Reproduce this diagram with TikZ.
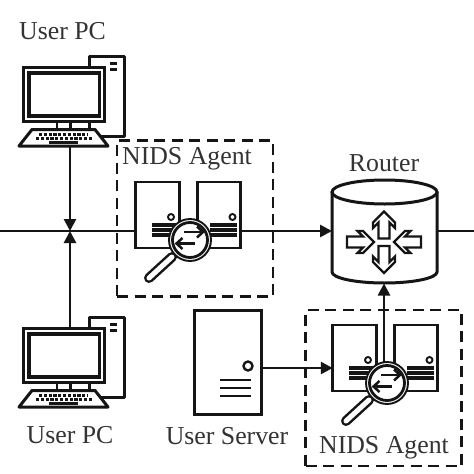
\documentclass[tikz,border=0pt]{standalone}
\usepackage{fontspec}
\setmainfont{Liberation Serif}
\usetikzlibrary{arrows.meta}
\definecolor{ink}{HTML}{151515}
\definecolor{labelink}{HTML}{333333}
\tikzset{
  x=1pt,y=-1pt,
  lw/.style={draw=ink,line width=3pt},
  conn/.style={draw=ink,line width=2.6pt},
  arrowed/.style={conn,-{Triangle[length=12pt,width=12pt,color=ink]}},
  dashbox/.style={draw=ink,line width=2.2pt,dash pattern=on 11pt off 6.5pt,minimum width=156pt,minimum height=156pt,outer sep=0pt,inner sep=0pt},
  srv/.style={draw=ink,fill=white,line width=2.7pt,outer sep=0pt,inner sep=0pt,minimum width=43.5pt,minimum height=66pt},
  lab/.style={font=\fontsize{25.8}{28}\selectfont,text=labelink,inner sep=0pt},
  pc/.pic={
    \draw[lw,fill=white,line join=round] (89,67) -- (89,56) -- (124,56) -- (124,136) -- (100,136);
    \draw[lw,fill=white] (23.5,67.5) rectangle (104,121);
    \draw[lw,fill=white,line width=3.2pt] (29,73) rectangle (99.5,116);
    \draw[lw,line width=2.8pt] (57,121) -- (57,129) (70.5,121) -- (70.5,129) (89.5,121) -- (89.5,129);
    \draw[lw,fill=white,line join=round] (32,129.5) -- (95,129.5) -- (108,146) -- (19,146) -- cycle;
    \draw[ink,line width=2.7pt,dash pattern=on 3.2pt off 1.6pt] (39,134.5) -- (88,134.5);
    \draw[ink,line width=2.7pt,dash pattern=on 3.2pt off 1.6pt] (36,138.5) -- (93,138.5);
    \draw[ink,line width=2.8pt] (49,142.5) -- (78,142.5);
    \draw[ink,line width=2.4pt] (110,63.5) -- (117,63.5) (110,69.5) -- (117,69.5);
    \coordinate (-kb) at (70,146);
    \coordinate (-mon) at (70,67.5);
  },
  nids/.pic={
    \node[srv] (-l) at (-32.5,-25) {};
    \node[srv] (-r) at (29,-25) {};
    \draw[ink,line width=1.9pt] (-19,-23) circle (3);
    \draw[ink,line width=1.9pt] (42.5,-23) circle (3);
    \foreach \yy in {-15,-10,-5} {
      \draw[ink,line width=3.2pt] (-38,\yy) -- (-12,\yy);
      \draw[ink,line width=3.2pt] (20,\yy) -- (47,\yy);
    }
    \draw[ink,line width=10pt,line cap=round] (-18,17) -- (-41,38);
    \draw[white,line width=5pt,line cap=round] (-18,17) -- (-41,38);
    \draw[ink,fill=white,line width=1.9pt] (0,0) circle (21);
    \draw[ink,fill=white,line width=2.8pt] (0,0) circle (17.5);
    \draw[ink,line width=2.5pt] (-6,-8) -- (12,-8);
    \draw[ink,line width=2.5pt,line join=miter] (7,-13.5) -- (13,-8) -- (7,-2.5);
    \draw[ink,line width=2.5pt] (-13,3.5) -- (5,3.5);
    \draw[ink,line width=2.5pt,line join=miter] (-7.5,-2) -- (-13.5,3.5) -- (-7.5,9);
    \coordinate (-in) at (-54,-9);
    \coordinate (-out) at (50.5,-9);
    \coordinate (-lens) at (-3,-21);
  },
  rarrow/.pic={
    \draw[ink,line width=2.4pt,line join=miter,fill=white]
      (0,-27) -- (11,-16) -- (11,-10.5) -- (5.5,-16) -- (5.5,0) -- (-5.5,0) -- (-5.5,-16) -- (-11,-10.5) -- (-11,-16) -- cycle;
  }
}
\begin{document}
\begin{tikzpicture}
\useasboundingbox[fill=white] (0,0) rectangle (474,474);

% dashed frames
\node[dashbox] (box1) at (195,218.5) {};
\node[dashbox] (box2) at (383.5,388) {};

% user PCs
\pic (pca) at (0,0) {pc};
\pic (pcb) at (0,261) {pc};

% NIDS agents
\pic (na) at (190,240) {nids};
\pic (nb) at (387,383) {nids};

% user server
\node[draw=ink,fill=white,line width=3pt,minimum width=67pt,minimum height=104pt,inner sep=0pt,outer sep=0pt] (srvu) at (227.5,362) {};
\draw[ink,line width=2.4pt] (248,366) circle (4.5);
\draw[ink,line width=2.6pt] (220,380) -- (251,380) (220,388) -- (251,388) (220,396) -- (251,396);
\coordinate (srvuout) at (srvu.east |- 0,368);

% router
\draw[lw,fill=white] (332,192) -- (332,272) arc[start angle=180,end angle=360,x radius=52.5pt,y radius=11pt] -- (437,192);
\draw[lw,fill=white] (384.5,192) ellipse[x radius=52.5pt,y radius=12pt];
\coordinate (rleft) at (332,231);
\coordinate (rright) at (437,231);
\coordinate (rbottom) at (384,283.5);
\pic at (384,238.5) {rarrow};
\pic[rotate=180] at (384,246) {rarrow};
\pic[rotate=-90] at (347,242) {rarrow};
\pic[rotate=90] at (421,242) {rarrow};

% free ends and junction
\coordinate (wl) at (0,231);
\coordinate (wr) at (474,231);
\coordinate (junction) at (70,231);

% connectors
\draw[conn] (wl) -- (na-in);
\draw[arrowed] (na-out) -- (rleft);
\draw[conn] (rright) -- (wr);
\draw[arrowed] (pca-kb) -- (junction);
\draw[arrowed] (pcb-mon) -- (junction);
\draw[arrowed] (srvuout) -- (srvuout -| nb-l.west);
\draw[arrowed] (nb-lens) -- (rbottom);

% labels
\node[lab] (t1) at (62.5,31) {User PC};
\node[lab] (t2) at (187,159) {NIDS Agent};
\node[lab] (t3) at (384,163) {Router};
\node[lab] (t4) at (70,435) {User PC};
\node[lab] (t5) at (227,436) {User Server};
\node[lab] (t6) at (384,448) {NIDS Agent};
\end{tikzpicture}
\end{document}
